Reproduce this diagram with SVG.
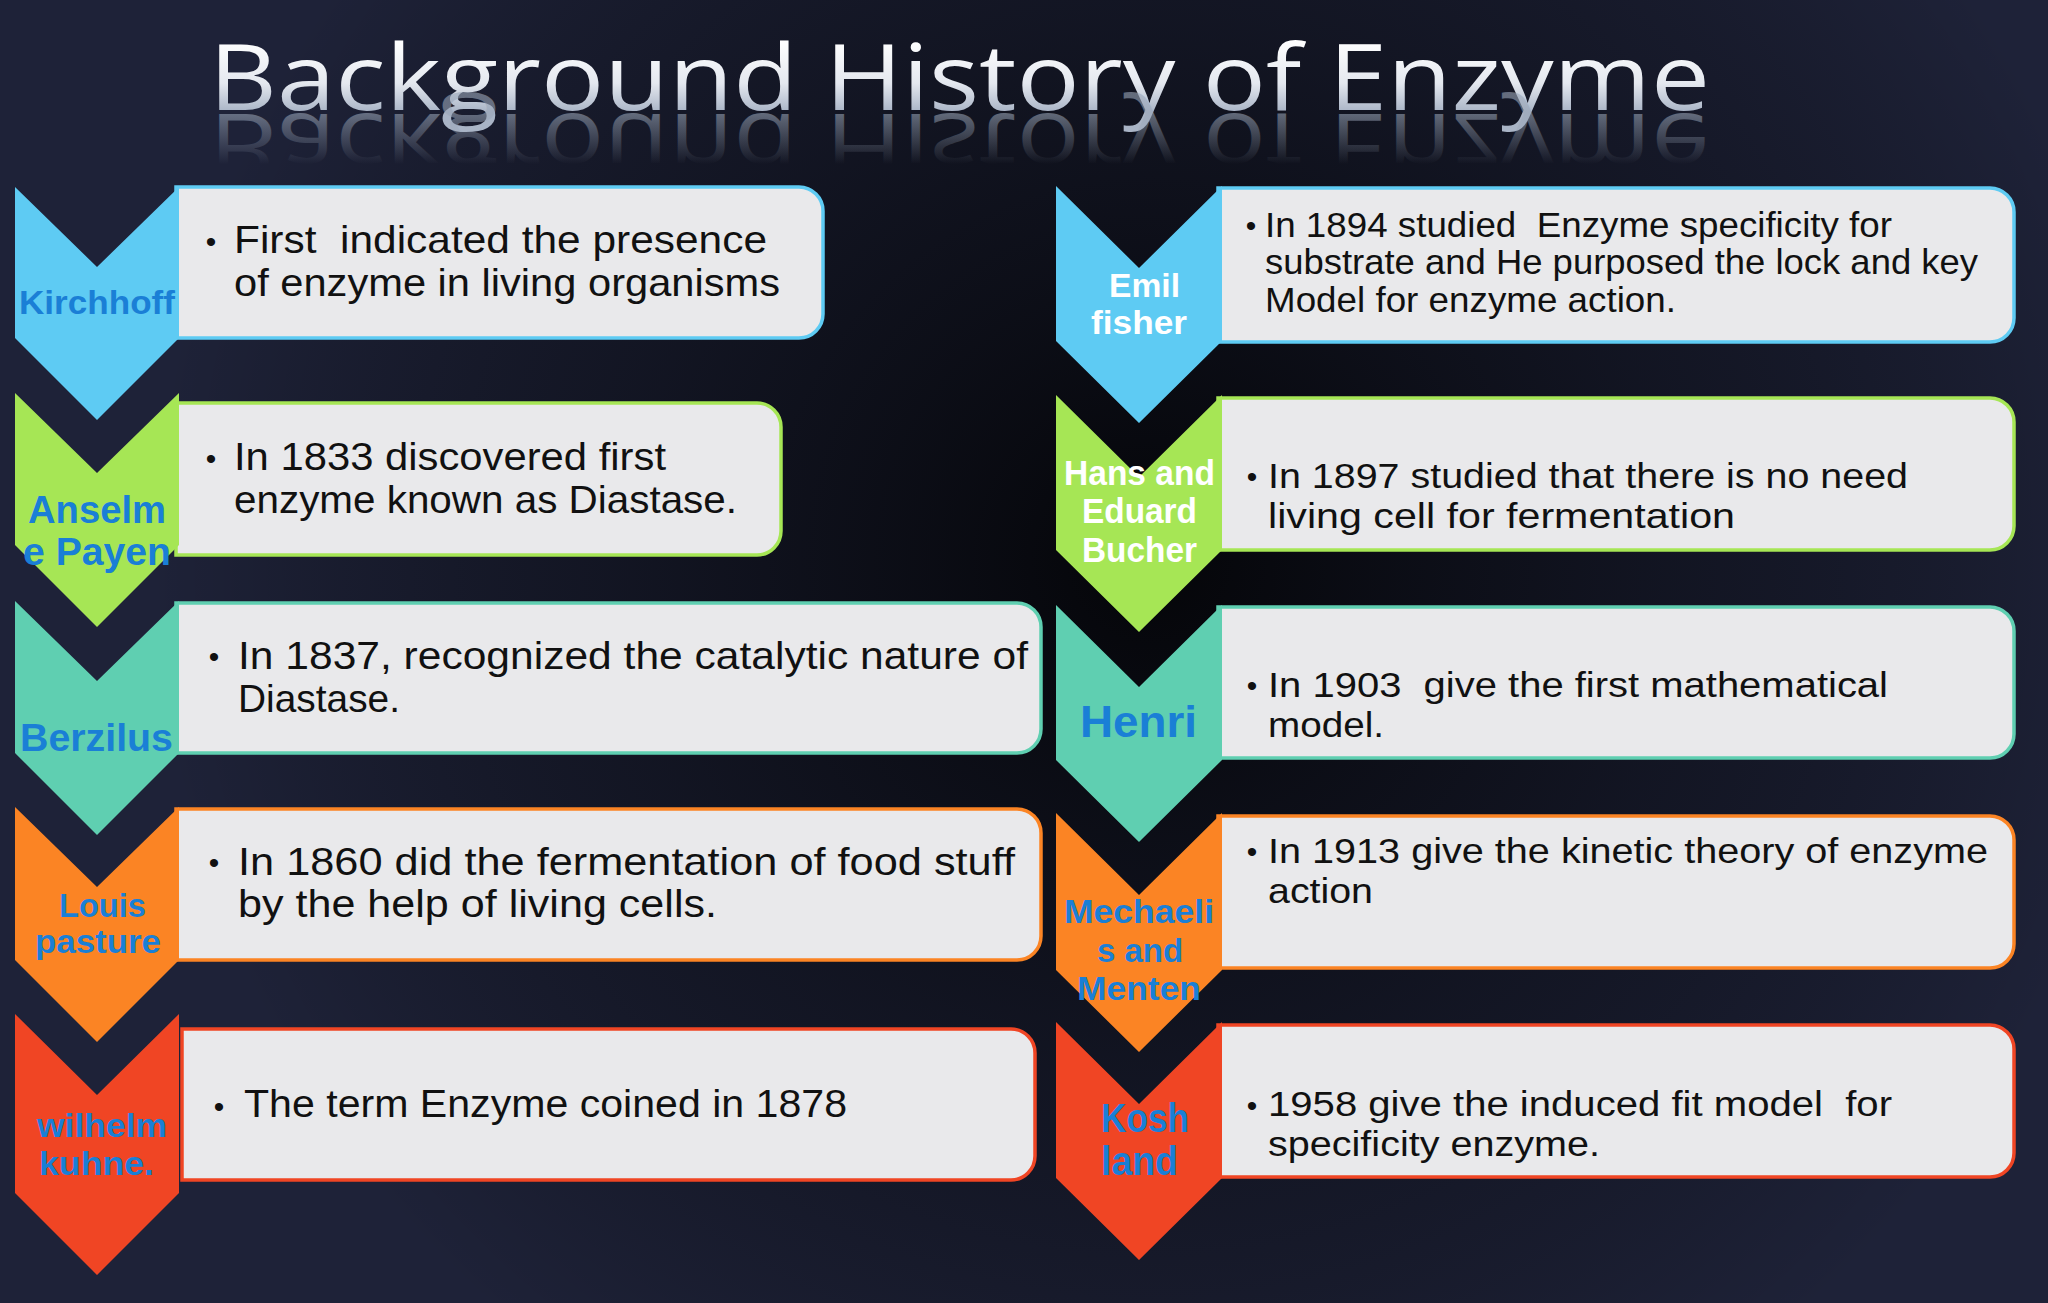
<svg xmlns="http://www.w3.org/2000/svg" width="2048" height="1303" viewBox="0 0 2048 1303">
<defs>
<radialGradient id="bgShade" cx="1150" cy="560" r="1000" gradientUnits="userSpaceOnUse">
<stop offset="0" stop-color="#000000" stop-opacity="0.85"/>
<stop offset="0.55" stop-color="#05060a" stop-opacity="0.45"/>
<stop offset="1" stop-color="#000000" stop-opacity="0"/>
</radialGradient>
<linearGradient id="titleFill" x1="0" y1="40" x2="0" y2="112" gradientUnits="userSpaceOnUse">
<stop offset="0" stop-color="#ffffff"/>
<stop offset="0.6" stop-color="#e4e8ef"/>
<stop offset="1" stop-color="#a9b4c6"/>
</linearGradient>
<linearGradient id="reflFill" x1="0" y1="112" x2="0" y2="60" gradientUnits="userSpaceOnUse">
<stop offset="0" stop-color="#9aa6b8" stop-opacity="0.6"/>
<stop offset="1" stop-color="#9aa6b8" stop-opacity="0"/>
</linearGradient>
<style>
.box{fill:#e9e9eb;stroke-width:3.5}
.body{font-family:"Liberation Sans",Arial,sans-serif;font-size:39px;fill:#111111;white-space:pre}
.bodyR{font-size:35px}
.bul{font-family:"Liberation Sans",sans-serif;font-size:30px;fill:#111111}
.lbl{font-family:"Liberation Sans",Arial,sans-serif;font-weight:bold;fill:#1a7fd6}
.lw{fill:#ffffff}
.title{font-family:"Open Sans","Liberation Sans",sans-serif;font-size:92px}
.blue{fill:#5ecbf3}.blueS{stroke:#5ecbf3}
.green{fill:#a6e655}.greenS{stroke:#a6e655}
.teal{fill:#5fcfb1}.tealS{stroke:#5fcfb1}
.orange{fill:#fb8424}.orangeS{stroke:#fb8424}
.red{fill:#f04524}.redS{stroke:#f04524}
</style>
</defs>

<rect x="0" y="0" width="2048" height="1303" fill="#1e2238"/>
<rect x="0" y="0" width="2048" height="1303" fill="url(#bgShade)"/>

<g id="title">
<text class="title" x="209" y="110" fill="url(#titleFill)" textLength="1501" lengthAdjust="spacingAndGlyphs">Background History of Enzyme</text>
<g transform="translate(0,224) scale(1,-1)">
<text class="title" x="209" y="110" fill="url(#reflFill)" textLength="1501" lengthAdjust="spacingAndGlyphs">Background History of Enzyme</text>
</g>
</g>

<g id="connectors"></g>

<!-- Left column -->
<g id="node-kirchhoff">
<path class="box blueS" d="M176,187 H799 A24,24 0 0 1 823,211 V314 A24,24 0 0 1 799,338 H176 Z"/>
<path class="blue" d="M15,187 L97,267 L179,187 L179,338 L97,420 L15,338 Z"/>
<text class="lbl" x="19" y="314" font-size="34" textLength="156" lengthAdjust="spacingAndGlyphs">Kirchhoff</text>
<text class="bul" x="211" y="252" text-anchor="middle">•</text>
<text class="body" x="234" y="253" textLength="533" lengthAdjust="spacingAndGlyphs" xml:space="preserve">First  indicated the presence</text>
<text class="body" x="234" y="296" textLength="546" lengthAdjust="spacingAndGlyphs">of enzyme in living organisms</text>
</g>

<g id="node-payen">
<path class="box greenS" d="M176,403 H757 A24,24 0 0 1 781,427 V531 A24,24 0 0 1 757,555 H176 Z"/>
<path class="green" d="M15,393 L97,473 L179,393 L179,545 L97,627 L15,545 Z"/>
<text class="lbl" x="28" y="523" font-size="38" textLength="138" lengthAdjust="spacingAndGlyphs">Anselm</text>
<text class="lbl" x="23" y="565" font-size="38" textLength="148" lengthAdjust="spacingAndGlyphs">e Payen</text>
<text class="bul" x="211" y="469" text-anchor="middle">•</text>
<text class="body" x="234" y="470" textLength="432" lengthAdjust="spacingAndGlyphs">In 1833 discovered first</text>
<text class="body" x="234" y="513" textLength="503" lengthAdjust="spacingAndGlyphs">enzyme known as Diastase.</text>
</g>

<g id="node-berzilus">
<path class="box tealS" d="M176,603 H1017 A24,24 0 0 1 1041,627 V729 A24,24 0 0 1 1017,753 H176 Z"/>
<path class="teal" d="M15,601 L97,681 L179,601 L179,753 L97,835 L15,753 Z"/>
<text class="lbl" x="20" y="751" font-size="38" textLength="153" lengthAdjust="spacingAndGlyphs">Berzilus</text>
<text class="bul" x="214" y="667" text-anchor="middle">•</text>
<text class="body" x="238" y="669" textLength="790" lengthAdjust="spacingAndGlyphs">In 1837, recognized the catalytic nature of</text>
<text class="body" x="238" y="712" textLength="162" lengthAdjust="spacingAndGlyphs">Diastase.</text>
</g>

<g id="node-pasture">
<path class="box orangeS" d="M176,809 H1017 A24,24 0 0 1 1041,833 V936 A24,24 0 0 1 1017,960 H176 Z"/>
<path class="orange" d="M15,807 L97,887 L179,807 L179,960 L97,1042 L15,960 Z"/>
<text class="lbl" x="59" y="917" font-size="34" textLength="87" lengthAdjust="spacingAndGlyphs">Louis</text>
<text class="lbl" x="35" y="953" font-size="34" textLength="126" lengthAdjust="spacingAndGlyphs">pasture</text>
<text class="bul" x="214" y="873" text-anchor="middle">•</text>
<text class="body" x="238" y="875" textLength="777" lengthAdjust="spacingAndGlyphs">In 1860 did the fermentation of food stuff</text>
<text class="body" x="238" y="917" textLength="479" lengthAdjust="spacingAndGlyphs">by the help of living cells.</text>
</g>

<g id="node-kuhne">
<path class="box redS" d="M182,1029 H1011 A24,24 0 0 1 1035,1053 V1156 A24,24 0 0 1 1011,1180 H182 Z"/>
<path class="red" d="M15,1014 L97,1095 L179,1014 L179,1193 L97,1275 L15,1193 Z"/>
<text class="lbl" x="37" y="1137" font-size="34" textLength="130" lengthAdjust="spacingAndGlyphs">wilhelm</text>
<text class="lbl" x="39" y="1175" font-size="34" textLength="115" lengthAdjust="spacingAndGlyphs">kuhne.</text>
<text class="bul" x="219" y="1117" text-anchor="middle">•</text>
<text class="body" x="244" y="1117" textLength="603" lengthAdjust="spacingAndGlyphs">The term Enzyme coined in 1878</text>
</g>

<!-- Right column -->
<g id="node-fisher">
<path class="box blueS" d="M1218,188 H1990 A24,24 0 0 1 2014,212 V318 A24,24 0 0 1 1990,342 H1218 Z"/>
<path class="blue" d="M1056,186 L1139,268 L1222,186 L1222,341 L1139,423 L1056,341 Z"/>
<text class="lbl lw" x="1109" y="297" font-size="34" textLength="71" lengthAdjust="spacingAndGlyphs">Emil</text>
<text class="lbl lw" x="1091" y="334" font-size="34" textLength="96" lengthAdjust="spacingAndGlyphs">fisher</text>
<text class="bul" x="1251" y="236" text-anchor="middle">•</text>
<text class="body bodyR" x="1265" y="237" textLength="627" lengthAdjust="spacingAndGlyphs" xml:space="preserve">In 1894 studied  Enzyme specificity for</text>
<text class="body bodyR" x="1265" y="274" textLength="713" lengthAdjust="spacingAndGlyphs">substrate and He purposed the lock and key</text>
<text class="body bodyR" x="1265" y="312" textLength="411" lengthAdjust="spacingAndGlyphs">Model for enzyme action.</text>
</g>

<g id="node-bucher">
<path class="box greenS" d="M1218,398 H1990 A24,24 0 0 1 2014,422 V526 A24,24 0 0 1 1990,550 H1218 Z"/>
<path class="green" d="M1056,395 L1139,477 L1222,395 L1222,550 L1139,632 L1056,550 Z"/>
<text class="lbl lw" x="1064" y="485" font-size="35" textLength="151" lengthAdjust="spacingAndGlyphs">Hans and</text>
<text class="lbl lw" x="1082" y="523" font-size="35" textLength="115" lengthAdjust="spacingAndGlyphs">Eduard</text>
<text class="lbl lw" x="1082" y="562" font-size="35" textLength="115" lengthAdjust="spacingAndGlyphs">Bucher</text>
<text class="bul" x="1252" y="487" text-anchor="middle">•</text>
<text class="body bodyR" x="1268" y="488" textLength="640" lengthAdjust="spacingAndGlyphs">In 1897 studied that there is no need</text>
<text class="body bodyR" x="1268" y="528" textLength="467" lengthAdjust="spacingAndGlyphs">living cell for fermentation</text>
</g>

<g id="node-henri">
<path class="box tealS" d="M1218,607 H1990 A24,24 0 0 1 2014,631 V734 A24,24 0 0 1 1990,758 H1218 Z"/>
<path class="teal" d="M1056,605 L1139,687 L1222,605 L1222,760 L1139,842 L1056,760 Z"/>
<text class="lbl" x="1080" y="737" font-size="45" textLength="117" lengthAdjust="spacingAndGlyphs">Henri</text>
<text class="bul" x="1252" y="696" text-anchor="middle">•</text>
<text class="body bodyR" x="1268" y="697" textLength="620" lengthAdjust="spacingAndGlyphs" xml:space="preserve">In 1903  give the first mathematical</text>
<text class="body bodyR" x="1268" y="737" textLength="116" lengthAdjust="spacingAndGlyphs">model.</text>
</g>

<g id="node-menten">
<path class="box orangeS" d="M1218,816 H1990 A24,24 0 0 1 2014,840 V944 A24,24 0 0 1 1990,968 H1218 Z"/>
<path class="orange" d="M1056,813 L1139,895 L1222,813 L1222,970 L1139,1052 L1056,970 Z"/>
<text class="lbl" x="1064" y="923" font-size="34" textLength="150" lengthAdjust="spacingAndGlyphs">Mechaeli</text>
<text class="lbl" x="1097" y="962" font-size="34" textLength="86" lengthAdjust="spacingAndGlyphs">s and</text>
<text class="lbl" x="1077" y="1000" font-size="34" textLength="124" lengthAdjust="spacingAndGlyphs">Menten</text>
<text class="bul" x="1252" y="862" text-anchor="middle">•</text>
<text class="body bodyR" x="1268" y="863" textLength="720" lengthAdjust="spacingAndGlyphs">In 1913 give the kinetic theory of enzyme</text>
<text class="body bodyR" x="1268" y="903" textLength="105" lengthAdjust="spacingAndGlyphs">action</text>
</g>

<g id="node-koshland">
<path class="box redS" d="M1218,1025 H1990 A24,24 0 0 1 2014,1049 V1153 A24,24 0 0 1 1990,1177 H1218 Z"/>
<path class="red" d="M1056,1022 L1139,1104 L1222,1022 L1222,1178 L1139,1260 L1056,1178 Z"/>
<text class="lbl" x="1101" y="1132" font-size="40" textLength="88" lengthAdjust="spacingAndGlyphs">Kosh</text>
<text class="lbl" x="1101" y="1175" font-size="40" textLength="77" lengthAdjust="spacingAndGlyphs">land</text>
<text class="bul" x="1252" y="1116" text-anchor="middle">•</text>
<text class="body bodyR" x="1268" y="1116" textLength="624" lengthAdjust="spacingAndGlyphs" xml:space="preserve">1958 give the induced fit model  for</text>
<text class="body bodyR" x="1268" y="1156" textLength="332" lengthAdjust="spacingAndGlyphs">specificity enzyme.</text>
</g>
</svg>
